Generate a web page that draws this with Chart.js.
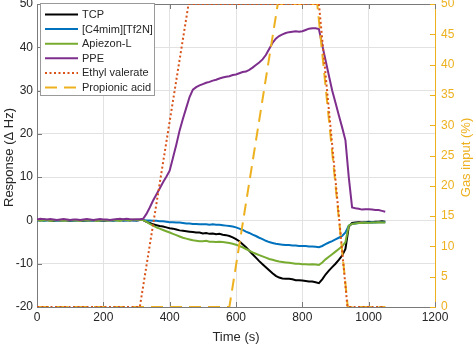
<!DOCTYPE html>
<html>
<head>
<meta charset="utf-8">
<script src="https://cdn.jsdelivr.net/npm/chart.js@4/dist/chart.umd.min.js"></script>
<style>
  html, body { margin: 0; padding: 0; background: #ffffff; }
  #wrap { width: 474px; height: 345px; }
</style>
</head>
<body>
<div id="wrap"><canvas id="c" width="474" height="345"></canvas></div>
<script>
// Sampling times of the sensor responses (s)
const timeS = [
  0, 10, 20, 30, 40, 50, 60, 70, 80, 90,
  100, 110, 120, 130, 140, 150, 160, 170, 180, 190,
  200, 210, 220, 230, 240, 250, 260, 270, 280, 290,
  300, 310, 320, 330, 340, 350, 360, 370, 380, 390,
  400, 410, 420, 430, 440, 450, 460, 470, 480, 490,
  500, 510, 520, 530, 540, 550, 560, 570, 580, 590,
  600, 610, 620, 630, 640, 650, 660, 670, 680, 690,
  700, 710, 720, 730, 740, 750, 760, 770, 780, 790,
  800, 810, 820, 830, 840, 850, 860, 870, 880, 890,
  900, 910, 920, 930, 940, 950, 960, 970, 980, 990,
  1000, 1010, 1020, 1030, 1040, 1050
];

// Sensor responses (Δ Hz)
const tcp = [
  0.1, 0.0, 0.2, 0.1, 0.0, -0.1, 0.1, 0.0, 0.1, 0.0,
  -0.1, 0.0, 0.1, 0.0, -0.1, 0.0, 0.1, 0.0, 0.1, 0.0,
  -0.1, 0.0, 0.1, 0.0, 0.2, 0.1, 0.0, 0.1, 0.0, 0.1,
  0.0, 0.1, 0.1, -0.3, -0.6, -0.9, -1.1, -1.3, -1.4, -1.6,
  -1.8, -1.9, -2.1, -2.3, -2.4, -2.5, -2.6, -2.7, -2.8, -2.8,
  -3.0, -2.9, -3.1, -3.0, -3.2, -3.1, -3.3, -3.4, -3.6, -3.9,
  -4.3, -4.8, -5.5, -6.2, -7.0, -7.8, -8.6, -9.4, -10.1, -10.8,
  -11.5, -12.2, -12.8, -13.2, -13.4, -13.5, -13.5, -13.6, -13.8, -13.8,
  -13.9, -14.0, -14.1, -14.1, -14.3, -14.5, -13.6, -12.5, -11.6, -10.8,
  -10.0, -9.1, -8.1, -6.6, -1.4, -0.6, -0.5, -0.4, -0.5, -0.4,
  -0.3, -0.4, -0.3, -0.3, -0.2, -0.3
];
const c4mimTf2n = [
  0.0, 0.1, -0.1, 0.0, 0.1, 0.0, -0.1, 0.0, 0.0, 0.1,
  0.0, -0.1, 0.0, 0.1, 0.0, 0.0, -0.1, 0.0, 0.1, 0.0,
  0.0, 0.1, 0.0, -0.1, 0.0, 0.1, 0.0, 0.0, 0.1, 0.0,
  0.0, 0.1, 0.1, 0.0, 0.0, -0.1, -0.1, -0.2, -0.2, -0.3,
  -0.4, -0.4, -0.5, -0.5, -0.6, -0.7, -0.7, -0.8, -0.8, -0.9,
  -0.9, -0.9, -1.0, -0.9, -1.0, -1.0, -1.1, -1.2, -1.3, -1.4,
  -1.6, -1.9, -2.2, -2.6, -2.9, -3.3, -3.6, -4.0, -4.3, -4.7,
  -5.0, -5.2, -5.4, -5.5, -5.6, -5.7, -5.7, -5.8, -5.8, -5.9,
  -5.9, -5.9, -6.0, -6.0, -6.1, -6.2, -5.9, -5.5, -5.1, -4.8,
  -4.4, -4.0, -3.6, -2.8, -1.2, -0.8, -0.7, -0.6, -0.6, -0.5,
  -0.5, -0.4, -0.5, -0.4, -0.4, -0.4
];
const apiezonL = [
  0.1, 0.0, 0.0, 0.1, -0.1, 0.0, 0.1, 0.0, -0.1, 0.0,
  0.1, 0.0, 0.0, -0.1, 0.1, 0.0, 0.0, 0.1, -0.1, 0.0,
  0.1, 0.0, 0.0, 0.1, 0.0, -0.1, 0.2, 0.1, 0.0, 0.2,
  0.1, 0.1, 0.1, -0.3, -0.8, -1.2, -1.6, -1.9, -2.2, -2.5,
  -2.8, -3.1, -3.4, -3.7, -4.0, -4.2, -4.4, -4.6, -4.7, -4.8,
  -4.8, -4.7, -4.9, -4.9, -5.0, -4.9, -5.0, -5.1, -5.2, -5.4,
  -5.6, -5.9, -6.2, -6.6, -7.0, -7.4, -7.7, -8.0, -8.3, -8.6,
  -8.9, -9.1, -9.3, -9.5, -9.6, -9.7, -9.8, -9.9, -10.0, -10.0,
  -10.1, -10.1, -10.2, -10.1, -10.2, -10.3, -9.7, -9.0, -8.4, -7.8,
  -7.2, -6.6, -6.0, -5.0, -1.2, -0.8, -0.7, -0.6, -0.6, -0.5,
  -0.6, -0.5, -0.5, -0.4, -0.5, -0.5
];
const ppe = [
  0.2, 0.4, 0.3, 0.2, 0.3, 0.2, 0.1, 0.2, 0.3, 0.2,
  0.1, 0.2, 0.2, 0.1, 0.2, 0.3, 0.2, 0.1, 0.2, 0.3,
  0.2, 0.2, 0.1, 0.2, 0.3, 0.4, 0.3, 0.4, 0.3, 0.2,
  0.3, 0.3, 0.4, 1.5, 3.0, 4.6, 6.0, 7.4, 8.8, 10.1,
  11.5, 14.5, 17.5, 20.8, 23.5, 26.0, 28.5, 30.2, 30.8, 31.2,
  31.5, 31.8, 32.0, 32.3, 32.5, 32.8, 33.0, 33.2, 33.3, 33.6,
  33.7, 34.0, 34.3, 34.4, 34.8, 35.3, 35.9, 36.5, 37.2, 38.2,
  39.6, 41.0, 42.0, 42.6, 43.0, 43.3, 43.5, 43.6, 43.7, 43.6,
  43.7, 44.0, 44.3, 44.4, 44.4, 44.2, 40.5, 37.0, 33.5, 30.0,
  27.2, 24.3, 21.5, 18.5, 10.0, 3.0, 2.8, 2.7, 2.5, 2.6,
  2.6, 2.5, 2.4, 2.4, 2.2, 2.0
];

// Gas input profiles (%)
const ethylTimes  = [0, 310, 457, 850, 936, 1050];
const ethylInput  = [0, 0, 50, 50, 0, 0];
const propTimes   = [0, 580, 726, 845, 937, 1050];
const propInput   = [0, 0, 50, 50, 0, 0];

// Axis ticks and labels
const timeTicks = [0, 200, 400, 600, 800, 1000, 1200];
const responseTicks = [-20, -10, 0, 10, 20, 30, 40, 50];
const gasTicks = [0, 5, 10, 15, 20, 25, 30, 35, 40, 45, 50];
const seriesNames = ['TCP', '[C4mim][Tf2N]', 'Apiezon-L', 'PPE', 'Ethyl valerate', 'Propionic acid'];
const xTitle = 'Time (s)';
const yTitle = 'Response (\u0394 Hz)';
const y1Title = 'Gas input (%)';

const FONT = '"Liberation Sans", Arial, Helvetica, sans-serif';
const TEXT = '#262626';
const AXIS = '#7a7a7a';
const GRID = '#e2e2e2';
const GOLD = '#EDB120';

function pairs(xs, ys) { return xs.map((x, i) => ({ x: x, y: ys[i] })); }
const plain = v => String(v);

const datasets = [
  { label: seriesNames[0], data: pairs(timeS, tcp), borderColor: '#000000', yAxisID: 'y', order: 6 },
  { label: seriesNames[1], data: pairs(timeS, c4mimTf2n), borderColor: '#0072BD', yAxisID: 'y', order: 5 },
  { label: seriesNames[2], data: pairs(timeS, apiezonL), borderColor: '#77AC30', yAxisID: 'y', order: 4 },
  { label: seriesNames[3], data: pairs(timeS, ppe), borderColor: '#7E2F8E', yAxisID: 'y', order: 3 },
  { label: seriesNames[4], data: pairs(ethylTimes, ethylInput), borderColor: '#D95319', borderDash: [2, 2.5], yAxisID: 'y1', order: 1 },
  { label: seriesNames[5], data: pairs(propTimes, propInput), borderColor: GOLD, borderDash: [12, 7], yAxisID: 'y1', order: 2 }
].map(d => Object.assign({ borderWidth: 2, pointRadius: 0, tension: 0, fill: false }, d));

// Extra decorations: top frame, inward tick marks, rotated axis titles, boxed legend
const decor = {
  id: 'decor',
  beforeDatasetsDraw(chart) {
    const { ctx, chartArea: a, scales } = chart;
    ctx.save();
    ctx.lineWidth = 1;
    ctx.strokeStyle = AXIS;
    ctx.beginPath();
    ctx.moveTo(a.left, Math.round(a.top) + 0.5);
    ctx.lineTo(a.right, Math.round(a.top) + 0.5);
    ctx.stroke();
    // inward ticks on the left, bottom and top edges
    ctx.beginPath();
    responseTicks.forEach(v => {
      const y = Math.round(scales.y.getPixelForValue(v)) + 0.5;
      ctx.moveTo(a.left, y); ctx.lineTo(a.left + 5, y);
    });
    timeTicks.forEach(v => {
      const x = Math.round(scales.x.getPixelForValue(v)) + 0.5;
      ctx.moveTo(x, a.bottom); ctx.lineTo(x, a.bottom - 5);
      ctx.moveTo(x, a.top); ctx.lineTo(x, a.top + 5);
    });
    ctx.stroke();
    // inward ticks on the right axis
    ctx.strokeStyle = GOLD;
    ctx.beginPath();
    gasTicks.forEach(v => {
      const y = Math.round(scales.y1.getPixelForValue(v)) + 0.5;
      ctx.moveTo(a.right, y); ctx.lineTo(a.right - 5, y);
    });
    ctx.stroke();
    ctx.restore();
  },
  afterDraw(chart) {
    const { ctx, chartArea: a } = chart;
    ctx.save();
    ctx.font = '13px ' + FONT;
    ctx.textAlign = 'center';
    ctx.textBaseline = 'middle';
    const midY = (a.top + a.bottom) / 2 + 2;
    ctx.fillStyle = TEXT;
    ctx.fillText(xTitle, (a.left + a.right) / 2, 337);
    ctx.save();
    ctx.translate(9, midY);
    ctx.rotate(-Math.PI / 2);
    ctx.fillText(yTitle, 0, 0);
    ctx.restore();
    ctx.save();
    ctx.fillStyle = GOLD;
    ctx.translate(466, midY);
    ctx.rotate(-Math.PI / 2);
    ctx.fillText(y1Title, 0, 0);
    ctx.restore();

    // legend box
    const bx = 40.5, by = 3.5, bw = 114, bh = 92;
    ctx.fillStyle = '#ffffff';
    ctx.fillRect(bx, by, bw, bh);
    ctx.strokeStyle = '#9a9a9a';
    ctx.lineWidth = 1;
    ctx.strokeRect(bx, by, bw, bh);
    ctx.font = '11px ' + FONT;
    ctx.textAlign = 'left';
    ctx.textBaseline = 'middle';
    chart.data.datasets.forEach((ds, i) => {
      const y = 14.5 + i * 14.6;
      ctx.strokeStyle = ds.borderColor;
      ctx.lineWidth = 2;
      ctx.setLineDash(ds.borderDash || []);
      ctx.beginPath();
      ctx.moveTo(45, y);
      ctx.lineTo(78, y);
      ctx.stroke();
      ctx.setLineDash([]);
      ctx.fillStyle = TEXT;
      ctx.fillText(ds.label, 82, y + 0.5);
    });
    ctx.restore();
  }
};

new Chart(document.getElementById('c'), {
  type: 'line',
  data: { datasets: datasets },
  options: {
    responsive: false,
    animation: false,
    devicePixelRatio: 1,
    layout: { padding: { top: 4, left: 0, right: 0, bottom: 0 } },
    plugins: { legend: { display: false }, tooltip: { enabled: false } },
    scales: {
      x: {
        type: 'linear', min: 0, max: 1200,
        afterBuildTicks(s) { s.ticks = timeTicks.map(v => ({ value: v })); },
        afterFit(s) { s.height = 38; s.paddingLeft = 0; s.paddingRight = 0; },
        grid: { color: GRID, drawTicks: false },
        border: { display: true, color: AXIS },
        ticks: { color: TEXT, font: { family: FONT, size: 12 }, padding: 3, maxRotation: 0, autoSkip: false, callback: plain }
      },
      y: {
        type: 'linear', position: 'left', min: -20, max: 50,
        afterBuildTicks(s) { s.ticks = responseTicks.map(v => ({ value: v })); },
        afterFit(s) { s.width = 37; s.paddingTop = 0; s.paddingBottom = 0; },
        grid: { color: GRID, drawTicks: false },
        border: { display: true, color: AXIS },
        ticks: { color: TEXT, font: { family: FONT, size: 12 }, padding: 4, autoSkip: false, callback: plain }
      },
      y1: {
        type: 'linear', position: 'right', min: 0, max: 50,
        afterBuildTicks(s) { s.ticks = gasTicks.map(v => ({ value: v })); },
        afterFit(s) { s.width = 39; s.paddingTop = 0; s.paddingBottom = 0; },
        grid: { drawOnChartArea: false, drawTicks: false },
        border: { display: true, color: GOLD },
        ticks: { color: GOLD, font: { family: FONT, size: 12 }, padding: 6, autoSkip: false, callback: plain }
      }
    }
  },
  plugins: [decor]
});
</script>
</body>
</html>
